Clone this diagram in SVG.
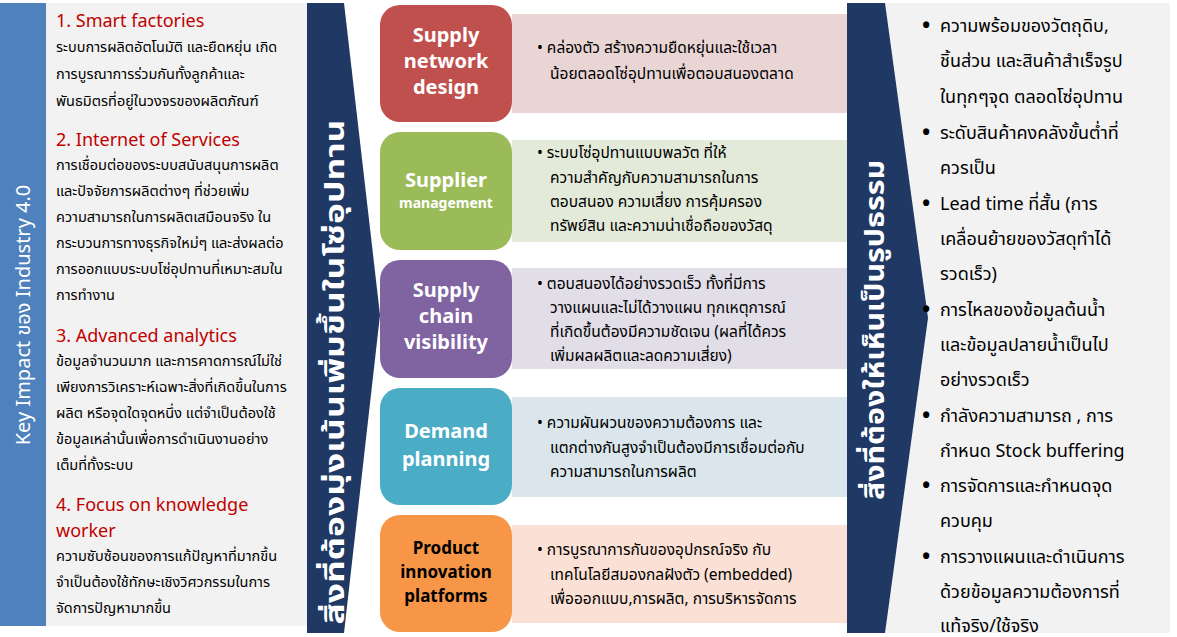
<svg xmlns="http://www.w3.org/2000/svg" width="1177" height="637" viewBox="0 0 1177 637">
<style>
text{font-family:"Noto Sans","Noto Sans Thai",sans-serif}
.ttl{fill:#c00000;font-size:18px}
.bd{fill:#000;font-size:14.5px}
.nd{fill:#fff;font-size:20px;font-weight:bold}
.dt{fill:#000;font-size:15.5px}
.rt{fill:#000;font-size:18px}
.bl{fill:#000;font-size:22px;font-weight:bold}
.vt{fill:#fff;font-size:27px;font-weight:bold}
</style>
<rect width="1177" height="637" fill="#fff"/>
<g id="left">
<rect x="0" y="3" width="46" height="623" fill="#4f81bd"/>
<text transform="translate(30,315) rotate(-90)" text-anchor="middle" fill="#fff" font-size="20">Key Impact ของ Industry 4.0</text>
<rect x="46" y="3" width="261" height="623" fill="#f2f2f2"/>
<text class="ttl" x="56" y="27">1. Smart factories</text>
<text class="bd" x="56" y="52">ระบบการผลิตอัตโนมัติ  และยืดหยุ่น เกิด</text>
<text class="bd" x="56" y="79">การบูรณาการร่วมกันทั้งลูกค้าและ</text>
<text class="bd" x="56" y="106">พันธมิตรที่อยู่ในวงจรของผลิตภัณฑ์</text>
<text class="ttl" x="56" y="146">2. Internet of Services</text>
<text class="bd" x="56" y="170">การเชื่อมต่อของระบบสนับสนุนการผลิต</text>
<text class="bd" x="56" y="196">และปัจจัยการผลิตต่างๆ  ที่ช่วยเพิ่ม</text>
<text class="bd" x="56" y="222">ความสามารถในการผลิตเสมือนจริง  ใน</text>
<text class="bd" x="56" y="248">กระบวนการทางธุรกิจใหม่ๆ  และส่งผลต่อ</text>
<text class="bd" x="56" y="274">การออกแบบระบบโซ่อุปทานที่เหมาะสมใน</text>
<text class="bd" x="56" y="300">การทำงาน</text>
<text class="ttl" x="56" y="342">3. Advanced analytics</text>
<text class="bd" x="56" y="366">ข้อมูลจำนวนมาก  และการคาดการณ์ไม่ใช่</text>
<text class="bd" x="56" y="392">เพียงการวิเคราะห์เฉพาะสิ่งที่เกิดขึ้นในการ</text>
<text class="bd" x="56" y="418">ผลิต  หรือจุดใดจุดหนึ่ง  แต่จำเป็นต้องใช้</text>
<text class="bd" x="56" y="444">ข้อมูลเหล่านั้นเพื่อการดำเนินงานอย่าง</text>
<text class="bd" x="56" y="470">เต็มที่ทั้งระบบ</text>
<text class="ttl" x="56" y="511">4. Focus on knowledge</text>
<text class="ttl" x="56" y="537">worker</text>
<text class="bd" x="56" y="561">ความซับซ้อนของการแก้ปัญหาที่มากขึ้น</text>
<text class="bd" x="56" y="587">จำเป็นต้องใช้ทักษะเชิงวิศวกรรมในการ</text>
<text class="bd" x="56" y="613">จัดการปัญหามากขึ้น</text>
</g>
<g id="chevron1">
<polygon points="307,3 344,3 380,315 344,633 307,633" fill="#1f3864"/>
<text class="vt" transform="translate(344,372) rotate(-90)" text-anchor="middle" textLength="505" lengthAdjust="spacingAndGlyphs">สิ่งที่ต้องมุ่งเน้นเพิ่มขึ้นในโซ่อุปทาน</text>
</g>
<g id="n1">
<rect x="512" y="14" width="335" height="99" fill="#ead5d5"/>
<rect x="380" y="5" width="132" height="117" rx="20" fill="#c0504d"/>
<text class="nd" x="446" y="42" text-anchor="middle">Supply</text>
<text class="nd" x="446" y="68" text-anchor="middle">network</text>
<text class="nd" x="446" y="94" text-anchor="middle">design</text>
<text class="dt" x="537" y="53">• คล่องตัว  สร้างความยืดหยุ่นและใช้เวลา</text>
<text class="dt" x="550" y="79">น้อยตลอดโซ่อุปทานเพื่อตอบสนองตลาด</text>
</g>
<g id="n2">
<rect x="512" y="140" width="335" height="102" fill="#e4ead9"/>
<rect x="380" y="132" width="132" height="118" rx="20" fill="#9bbb59"/>
<text class="nd" x="446" y="187" text-anchor="middle">Supplier</text>
<text x="446" y="208" text-anchor="middle" fill="#fff" font-size="14" font-weight="bold">management</text>
<text class="dt" x="537" y="158">• ระบบโซ่อุปทานแบบพลวัต  ที่ให้</text>
<text class="dt" x="550" y="183">ความสำคัญกับความสามารถในการ</text>
<text class="dt" x="550" y="207">ตอบสนอง   ความเสี่ยง การคุ้มครอง</text>
<text class="dt" x="550" y="231">ทรัพย์สิน  และความน่าเชื่อถือของวัสดุ</text>
</g>
<g id="n3">
<rect x="512" y="268" width="335" height="101" fill="#e2dee8"/>
<rect x="380" y="260" width="132" height="118" rx="20" fill="#8064a2"/>
<text class="nd" x="446" y="297" text-anchor="middle">Supply</text>
<text class="nd" x="446" y="323" text-anchor="middle">chain</text>
<text class="nd" x="446" y="349" text-anchor="middle">visibility</text>
<text class="dt" x="537" y="289">• ตอบสนองได้อย่างรวดเร็ว  ทั้งที่มีการ</text>
<text class="dt" x="550" y="313">วางแผนและไม่ได้วางแผน  ทุกเหตุการณ์</text>
<text class="dt" x="550" y="337">ที่เกิดขึ้นต้องมีความชัดเจน  (ผลที่ได้ควร</text>
<text class="dt" x="550" y="361">เพิ่มผลผลิตและลดความเสี่ยง)</text>
</g>
<g id="n4">
<rect x="512" y="397" width="335" height="100" fill="#dae6ec"/>
<rect x="380" y="388" width="132" height="117" rx="20" fill="#4bacc6"/>
<text class="nd" x="446" y="438" text-anchor="middle">Demand</text>
<text class="nd" x="446" y="466" text-anchor="middle">planning</text>
<text class="dt" x="537" y="428">• ความผันผวนของความต้องการ  และ</text>
<text class="dt" x="550" y="453">แตกต่างกันสูงจำเป็นต้องมีการเชื่อมต่อกับ</text>
<text class="dt" x="550" y="477">ความสามารถในการผลิต</text>
</g>
<g id="n5">
<rect x="512" y="525" width="335" height="98" fill="#fbe1d5"/>
<rect x="380" y="515" width="132" height="117" rx="20" fill="#f79646"/>
<text x="446" y="554" text-anchor="middle" fill="#000" font-size="17" font-weight="bold">Product</text>
<text x="446" y="578" text-anchor="middle" fill="#000" font-size="17" font-weight="bold">innovation</text>
<text x="446" y="602" text-anchor="middle" fill="#000" font-size="17" font-weight="bold">platforms</text>
<text class="dt" x="537" y="555">• การบูรณาการกันของอุปกรณ์จริง  กับ</text>
<text class="dt" x="550" y="580">เทคโนโลยีสมองกลฝังตัว  (embedded)</text>
<text class="dt" x="550" y="604">เพื่อออกแบบ,การผลิต,  การบริหารจัดการ</text>
</g>
<g id="right">
<rect x="880" y="3" width="290" height="630" fill="#f2f2f2"/>
<polygon points="847,3 885,3 928,318 885,633 847,633" fill="#1f3864"/>
<text class="vt" transform="translate(884,330) rotate(-90)" text-anchor="middle" textLength="340" lengthAdjust="spacingAndGlyphs">สิ่งที่ต้องให้เห็นเป็นรูปธรรม</text>
<text class="bl" x="922" y="33">•</text><text class="rt" x="940" y="32">ความพร้อมของวัตถุดิบ,</text>
<text class="rt" x="940" y="67">ชิ้นส่วน และสินค้าสำเร็จรูป</text>
<text class="rt" x="940" y="103">ในทุกๆจุด  ตลอดโซ่อุปทาน</text>
<text class="bl" x="922" y="140">•</text><text class="rt" x="940" y="139">ระดับสินค้าคงคลังขั้นต่ำที่</text>
<text class="rt" x="940" y="174">ควรเป็น</text>
<text class="bl" x="922" y="211">•</text><text class="rt" x="940" y="210">Lead time ที่สั้น (การ</text>
<text class="rt" x="940" y="245">เคลื่อนย้ายของวัสดุทำได้</text>
<text class="rt" x="940" y="280">รวดเร็ว)</text>
<text class="bl" x="922" y="317">•</text><text class="rt" x="940" y="316">การไหลของข้อมูลต้นน้ำ</text>
<text class="rt" x="940" y="351">และข้อมูลปลายน้ำเป็นไป</text>
<text class="rt" x="940" y="386">อย่างรวดเร็ว</text>
<text class="bl" x="922" y="423">•</text><text class="rt" x="940" y="422">กำลังความสามารถ , การ</text>
<text class="rt" x="940" y="457">กำหนด Stock buffering</text>
<text class="bl" x="922" y="493">•</text><text class="rt" x="940" y="492">การจัดการและกำหนดจุด</text>
<text class="rt" x="940" y="527">ควบคุม</text>
<text class="bl" x="922" y="564">•</text><text class="rt" x="940" y="563">การวางแผนและดำเนินการ</text>
<text class="rt" x="940" y="598">ด้วยข้อมูลความต้องการที่</text>
<text class="rt" x="940" y="632">แท้จริง/ใช้จริง</text>
</g>
</svg>
